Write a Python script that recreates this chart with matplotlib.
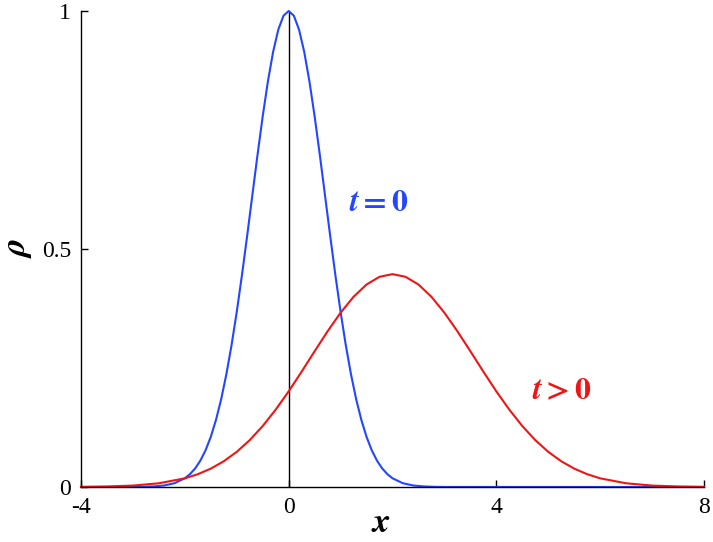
import matplotlib.pyplot as plt

plt.rcParams['font.family'] = ['Liberation Serif', 'DejaVu Serif']
plt.rcParams['mathtext.fontset'] = 'stix'

# densidad inicial (t = 0)
x_azul = [-4.0, -3.0, -2.8, -2.6, -2.4, -2.2, -2.0, -1.9, -1.8, -1.7, -1.6, -1.5,
          -1.4, -1.3, -1.2, -1.1, -1.0, -0.9, -0.8, -0.7, -0.6, -0.5, -0.4, -0.3,
          -0.2, -0.1, 0.0, 0.1, 0.2, 0.3, 0.4, 0.5, 0.6, 0.7, 0.8, 0.9,
          1.0, 1.1, 1.2, 1.3, 1.4, 1.5, 1.6, 1.7, 1.8, 1.9, 2.0, 2.2,
          2.4, 2.6, 2.8, 3.0, 8.0]
rho_azul = [0.0, 0.0001, 0.0004, 0.0012, 0.0032, 0.0079, 0.0183, 0.0271, 0.0392, 0.0556, 0.0773, 0.1054,
            0.1409, 0.1845, 0.2369, 0.2982, 0.3679, 0.4449, 0.5273, 0.6126, 0.6977, 0.7788, 0.8521, 0.9139,
            0.9608, 0.9900, 1.0, 0.9900, 0.9608, 0.9139, 0.8521, 0.7788, 0.6977, 0.6126, 0.5273, 0.4449,
            0.3679, 0.2982, 0.2369, 0.1845, 0.1409, 0.1054, 0.0773, 0.0556, 0.0392, 0.0271, 0.0183, 0.0079,
            0.0032, 0.0012, 0.0004, 0.0001, 0.0]

# densidad despues (t > 0)
x_rojo = [-4.0, -3.5, -3.0, -2.5, -2.0, -1.75, -1.5, -1.25, -1.0, -0.75, -0.5, -0.25,
          0.0, 0.25, 0.5, 0.75, 1.0, 1.25, 1.5, 1.75, 2.0, 2.25, 2.5, 2.75,
          3.0, 3.25, 3.5, 3.75, 4.0, 4.25, 4.5, 4.75, 5.0, 5.25, 5.5, 5.75,
          6.0, 6.5, 7.0, 7.5, 8.0]
rho_rojo = [0.0003, 0.0011, 0.0030, 0.0078, 0.0182, 0.0269, 0.0386, 0.0541, 0.0739, 0.0985, 0.1281, 0.1625,
            0.2009, 0.2424, 0.2852, 0.3272, 0.3661, 0.3996, 0.4254, 0.4416, 0.4472, 0.4416, 0.4254, 0.3996,
            0.3661, 0.3272, 0.2852, 0.2424, 0.2009, 0.1625, 0.1281, 0.0985, 0.0739, 0.0541, 0.0386, 0.0269,
            0.0182, 0.0078, 0.0030, 0.0011, 0.0003]

xticks = [-4, 0, 4, 8]
yticks = [0, 0.5, 1]
ylabels = ['0', '0.5', '1']

azul = '#2446ff'
rojo = '#f01414'

fig = plt.figure(figsize=(7.13, 5.42), dpi=100)
ax = fig.add_axes([81/713, 55/542, 623/713, 476/542])

ax.plot([0, 0], [0, 1], color='black', lw=1.0)
ax.plot(x_azul, rho_azul, color=azul, lw=1.5, clip_on=False)
ax.plot(x_rojo, rho_rojo, color=rojo, lw=1.5, clip_on=False)

ax.set_xlim(-4, 8)
ax.set_ylim(0, 1)
ax.spines['top'].set_visible(False)
ax.spines['right'].set_visible(False)
ax.spines['left'].set_linewidth(1.0)
ax.spines['bottom'].set_linewidth(1.0)

ax.set_xticks(xticks)
ax.set_xticklabels([str(t) for t in xticks])
ax.set_yticks(yticks)
ax.set_yticklabels(ylabels)
ax.tick_params(direction='in', length=5, width=1.0, labelsize=17, pad=7)

ax.text(1.73, 0.595, r'$\mathbfit{t}\mathbf{=0}$', color=azul, fontsize=23,
        ha='center', va='center')
ax.text(5.27, 0.20, r'$\mathbfit{t}\mathbf{>0}$', color=rojo, fontsize=23,
        ha='center', va='center')

fig.text(381/713, 1 - 524/542, r'$\mathbfit{x}$', fontsize=25, ha='center', va='center')
fig.text(18/713, 1 - 248/542, r'$\mathbfit{\rho}$', fontsize=25, ha='center', va='center',
         rotation=90)

fig.savefig('out.png', dpi=100)
